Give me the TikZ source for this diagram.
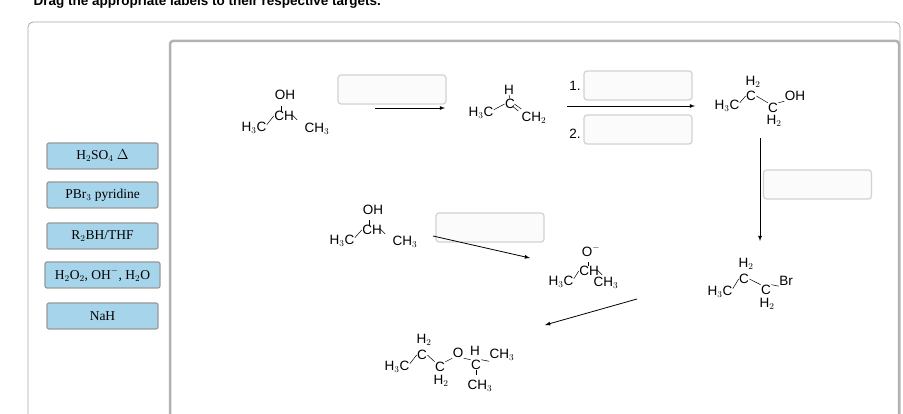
\documentclass[tikz,border=0pt]{standalone}
\usepackage{fontspec}
\setmainfont{Liberation Serif}
\setsansfont{Liberation Sans}
\begin{document}
\begin{tikzpicture}[x=1pt,y=-1pt,
 atm/.style={font=\sffamily\fontsize{13.5}{14}\selectfont,inner sep=0.3pt},
 bd/.style={line width=0.5pt},
 lab/.style={draw=gray!80,line width=1.2pt,rounded corners=2pt,fill={rgb,255:red,166;green,212;blue,234},minimum height=26pt,inner xsep=1pt,font=\fontsize{13.5}{14}\selectfont},
 tgt/.style={draw=gray!35,line width=1.2pt,rounded corners=3pt,fill=gray!3,minimum width=108pt,minimum height=29pt,inner sep=0pt},
 arr/.style={-latex,line width=0.8pt}]
\useasboundingbox (0,0) rectangle (903,414);
\node[anchor=west,font=\sffamily\bfseries\fontsize{13.5}{14}\selectfont] (hdr) at (30,2) {Drag the appropriate labels to their respective targets.};
\draw[gray!70,line width=0.8pt,rounded corners=5pt] (28,430) -- (28,22) -- (900,22) -- (900,430);
\draw[gray!60,line width=2.5pt,rounded corners=3pt,fill=white] (170,430) -- (170,41) -- (899,41) -- (899,430);
% labels
\node[lab,minimum width=111pt] (l1) at (102.5,156) {H$_2$SO$_4$ $\Delta$};
\node[lab,minimum width=111pt] (l2) at (102.5,195) {PBr$_3$ pyridine};
\node[lab,minimum width=111pt] (l3) at (102.5,236) {R$_2$BH/THF};
\node[lab,minimum width=115pt] (l4) at (102.5,275) {H$_2$O$_2$, OH$^-$, H$_2$O};
\node[lab,minimum width=111pt] (l5) at (102.5,316) {NaH};
% targets
\node[tgt] (t1) at (392,89.5) {};
\node[tgt] (t2) at (638,85.5) {};
\node[tgt] (t3) at (638,129.5) {};
\node[tgt] (t4) at (817.5,184.5) {};
\node[tgt] (t5) at (490,227.5) {};
\node[atm] (n1) at (575,86) {1.};
\node[atm] (n2) at (575,134) {2.};
% arrows
\coordinate (a1s) at (375,108); \coordinate (a1e) at (445,108);
\draw[arr] (a1s) -- (a1e);
\coordinate (a2s) at (567,106); \coordinate (a2e) at (695,106);
\draw[arr] (a2s) -- (a2e);
\coordinate (a3s) at (760,138); \coordinate (a3e) at (760,241);
\draw[arr] (a3s) -- (a3e);
\coordinate (a4s) at (433,236); \coordinate (a4e) at (530,258);
\draw[arr] (a4s) -- (a4e);
\coordinate (a5s) at (637,299); \coordinate (a5e) at (545,325);
\draw[arr] (a5s) -- (a5e);
% isopropanol 1
\node[atm] (o1) at (285,95) {OH};
\node[atm] (c1) at (284,116) {CH};
\node[atm] (m1) at (254,128) {H$_3$C};
\node[atm] (m2) at (317,129) {CH$_3$};
\draw[bd] (c1.north) ++(-2.5,0) -- ++(0,-5);
\draw[bd] (m1.north east) ++(0,3) -- (c1.west);
\draw[bd] (c1.east) ++(-2,-1) -- ++(5,5);
% isopropanol 2
\node[atm] (o2) at (373,210) {OH};
\node[atm] (c2) at (372,230) {CH};
\node[atm] (m3) at (342,241) {H$_3$C};
\node[atm] (m4) at (405,242) {CH$_3$};
\draw[bd] (c2.north) ++(-2.5,0) -- ++(0,-5);
\draw[bd] (m3.north east) ++(0,3) -- (c2.west);
\draw[bd] (c2.east) ++(-2,-1) -- ++(5,5);
% propene
\node[atm] (h1) at (509,90) {H};
\node[atm] (c3) at (510,104) {C};
\node[atm] (m5) at (481,113) {H$_3$C};
\node[atm] (c4) at (534,118) {CH$_2$};
\draw[bd] (h1.south) -- (c3.north);
\draw[bd] (m5.north east) ++(0,3) -- (c3.west);
\draw[bd] (c3.east) ++(-1,0) -- ++(7,5);
\draw[bd] (c3.east) ++(-2,3) -- ++(5,4);
% propanol
\node[atm] (h2a) at (753,82) {H$_2$};
\node[atm] (c5) at (751,96) {C};
\node[atm] (m6) at (727,106) {H$_3$C};
\node[atm] (c6) at (773,108) {C};
\node[atm] (h2b) at (774,121) {H$_2$};
\node[atm] (o3) at (795,96) {OH};
\draw[bd] (m6.north east) ++(0,3) -- (c5.west);
\draw[bd] (c5.east) -- (c6.north west);
\draw[bd] (c6.north east) -- (o3.south west);
% alkoxide
\node[atm] (o4) at (591,251) {O$^{-}$};
\node[atm] (c7) at (589,271) {CH};
\node[atm] (m7) at (561,282) {H$_3$C};
\node[atm] (m8) at (606,283) {CH$_3$};
\draw[bd] (c7.north) ++(-1,0) -- ++(0,-4);
\draw[bd] (m7.north east) ++(0,3) -- (c7.west);
\draw[bd] (c7.east) ++(-2,-1) -- ++(5,5);
% bromide
\node[atm] (h2c) at (746,264) {H$_2$};
\node[atm] (c8) at (744,279) {C};
\node[atm] (m9) at (720,292) {H$_3$C};
\node[atm] (c9) at (766,290) {C};
\node[atm] (h2d) at (767,304) {H$_2$};
\node[atm] (br) at (786,281) {Br};
\draw[bd] (m9.north east) ++(0,3) -- (c8.west);
\draw[bd] (c8.east) -- (c9.north west);
\draw[bd] (c9.north east) -- (br.south west);
% ether
\node[atm] (h2e) at (424,340) {H$_2$};
\node[atm] (c10) at (422,355) {C};
\node[atm] (m10) at (397,367) {H$_3$C};
\node[atm] (c11) at (440,367) {C};
\node[atm] (h2f) at (441,381) {H$_2$};
\node[atm] (o5) at (458,353) {O};
\node[atm] (h3) at (475,351) {H};
\node[atm] (c12) at (476,365) {C};
\node[atm] (m11) at (502,355) {CH$_3$};
\node[atm] (m12) at (480,386) {CH$_3$};
\draw[bd] (m10.north east) ++(0,3) -- (c10.west);
\draw[bd] (c10.east) -- (c11.north west);
\draw[bd] (c11.north east) -- (o5.south west);
\draw[bd] (o5.south east) -- (c12.north west);
\draw[bd] (c12.north east) -- (m11.south west);
\draw[bd] (c12.south) -- ++(0,5);
\end{tikzpicture}
\end{document}
